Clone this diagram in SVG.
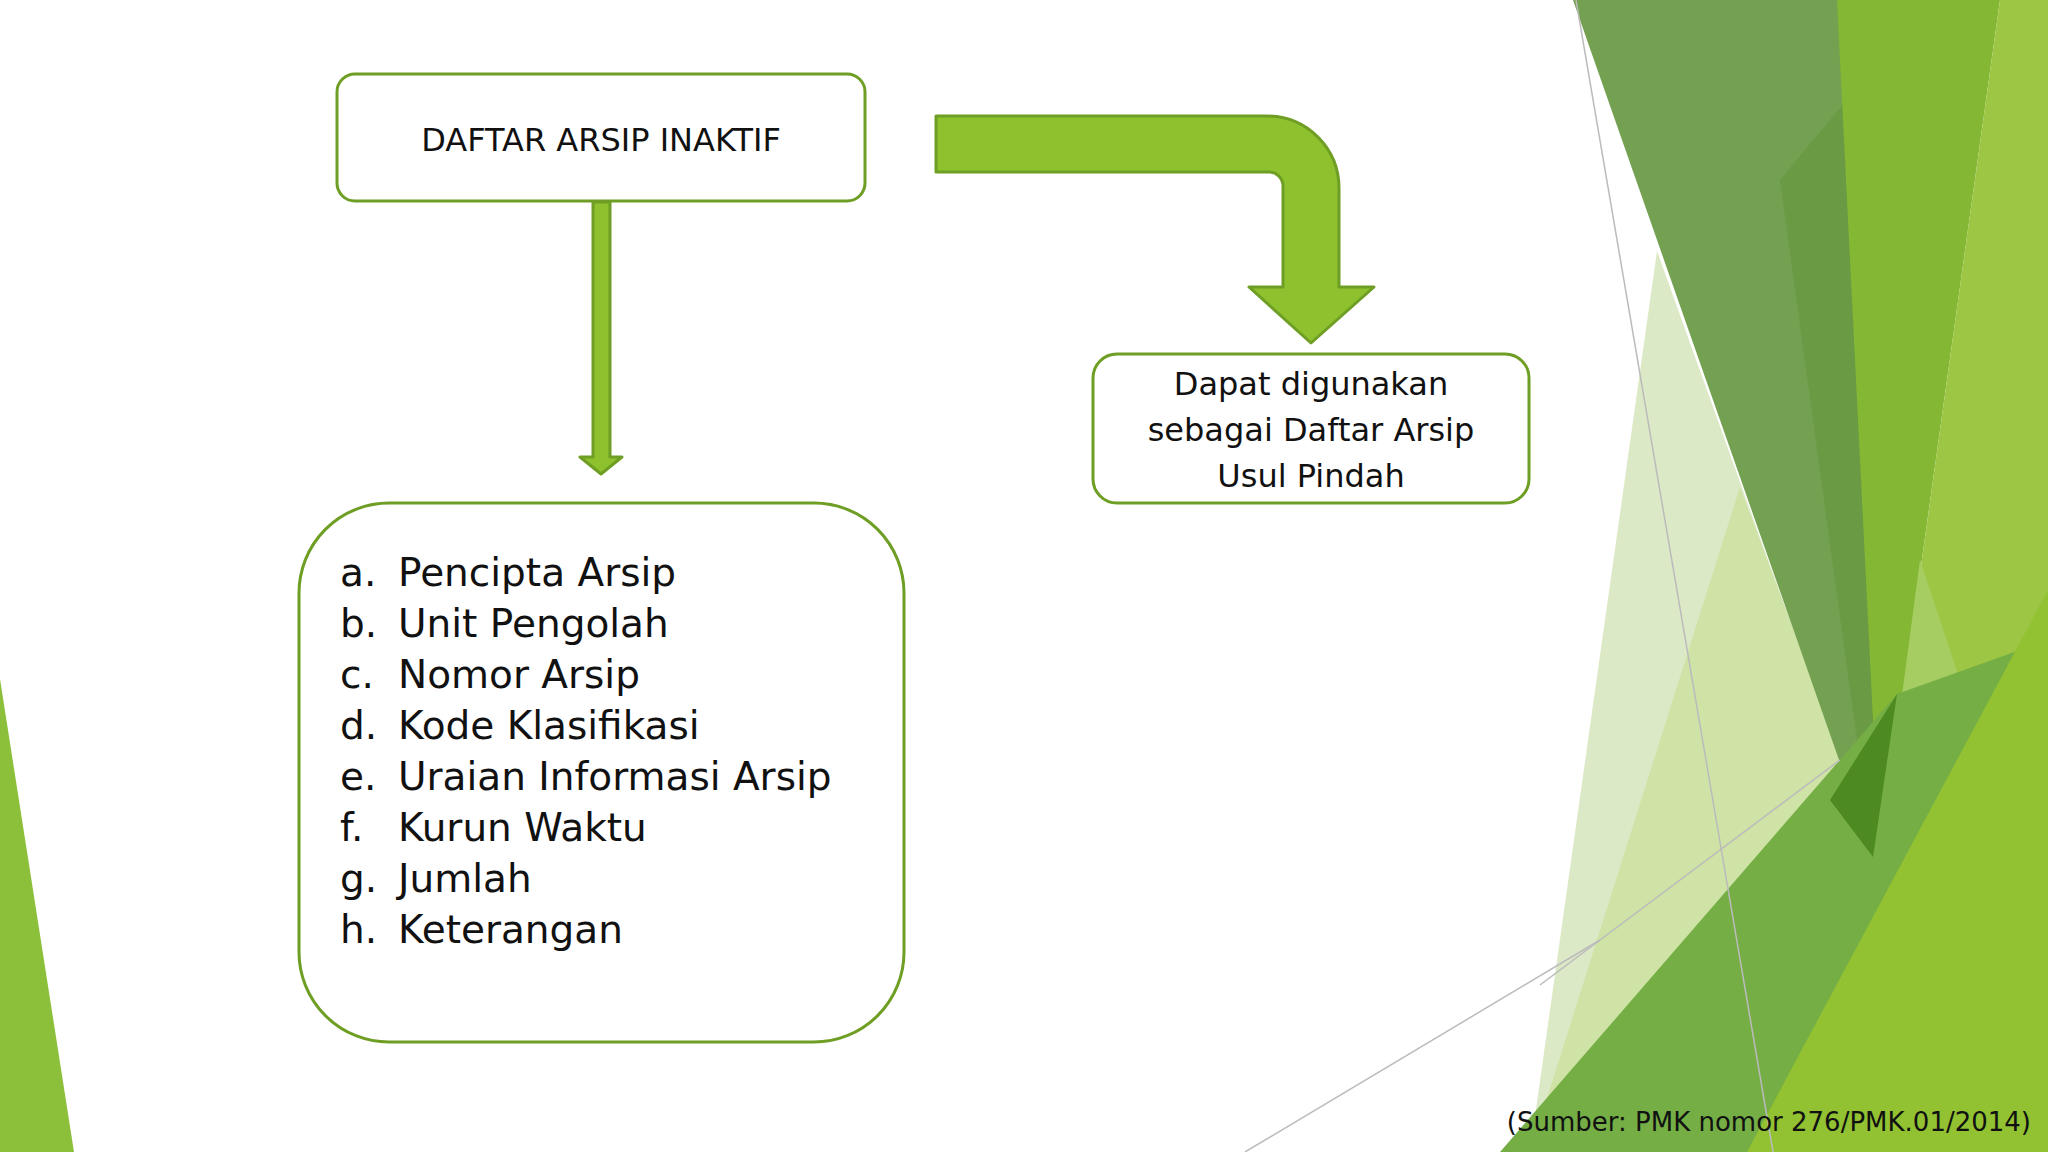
<svg xmlns="http://www.w3.org/2000/svg" width="2048" height="1152" viewBox="0 0 2048 1152">
<style>
.box{fill:#fff;stroke:#6f9e24;stroke-width:3}
.arr{fill:#8dc12e;stroke:#6f9e24;stroke-width:3;stroke-linejoin:round}
text{font-family:"DejaVu Sans","Liberation Sans",sans-serif;fill:#111}
.t{font-size:32px}
.li{font-size:39px}
.thin{stroke:#bbbbbb;stroke-width:1.5;fill:none}
</style>
<rect width="2048" height="1152" fill="#fff"/>
<g id="decor">
<polygon points="0,679 0,1152 74,1152" fill="#8dc03a"/>
<polygon points="1657,251 1840,760 1560,1152 1530,1152" fill="#dce9c6"/>
<polygon points="1740,487 1880,860 1560,1152 1530,1152" fill="#cfe3a6"/>
<polygon points="1573,0 1930,0 1873,857" fill="#74a052"/>
<polygon points="1780,180 1930,0 1873,857" fill="#6a9a44"/>
<polygon points="1837,0 2000,0 1880,860" fill="#84b733"/>
<polygon points="2000,0 2048,0 2048,1152 1860,1152 1880,860" fill="#9cc644"/>
<polygon points="1920,560 1960,680 1880,860" fill="#a6cd62"/>
<polygon points="1500,1152 1897,694 2048,640 2048,1152" fill="#74ae45"/>
<polygon points="1897,694 1873,857 1830,800" fill="#4e8a22"/>
<polygon points="2048,590 2048,1152 1747,1152" fill="#92c231"/>
<line class="thin" x1="1576" y1="0" x2="1773" y2="1152"/>
<line class="thin" x1="1245" y1="1152" x2="1600" y2="940"/>
<line class="thin" x1="1540" y1="985" x2="1840" y2="760"/>
</g>
<g id="connectors">
<path class="arr" d="M593,202 L610,202 L610,457 L622,457 L601,474 L580,457 L593,457 Z"/>
<path class="arr" d="M936,116 L1267,116 A72,72 0 0 1 1339,188 L1339,287 L1374,287 L1311,343 L1249,287 L1283,287 L1283,186 A14,14 0 0 0 1269,172 L936,172 Z"/>
</g>
<g id="n1">
<rect class="box" x="337" y="74" width="528" height="127" rx="18"/>
<text class="t" x="601" y="151" text-anchor="middle">DAFTAR ARSIP INAKTIF</text>
</g>
<g id="n2">
<rect class="box" x="299" y="503" width="605" height="539" rx="90"/>
<g class="li">
<text x="340" y="586">a.</text><text x="398" y="586">Pencipta Arsip</text>
<text x="340" y="637">b.</text><text x="398" y="637">Unit Pengolah</text>
<text x="340" y="688">c.</text><text x="398" y="688">Nomor Arsip</text>
<text x="340" y="739">d.</text><text x="398" y="739">Kode Klasifikasi</text>
<text x="340" y="790">e.</text><text x="398" y="790">Uraian Informasi Arsip</text>
<text x="340" y="841">f.</text><text x="398" y="841">Kurun Waktu</text>
<text x="340" y="892">g.</text><text x="398" y="892">Jumlah</text>
<text x="340" y="943">h.</text><text x="398" y="943">Keterangan</text>
</g>
</g>
<g id="n3">
<rect class="box" x="1093" y="354" width="436" height="149" rx="24"/>
<text class="t" x="1311" y="395" text-anchor="middle">Dapat digunakan</text>
<text class="t" x="1311" y="441" text-anchor="middle">sebagai Daftar Arsip</text>
<text class="t" x="1311" y="487" text-anchor="middle">Usul Pindah</text>
</g>
<text x="2031" y="1131" text-anchor="end" font-size="26">(Sumber: PMK nomor 276/PMK.01/2014)</text>
</svg>
